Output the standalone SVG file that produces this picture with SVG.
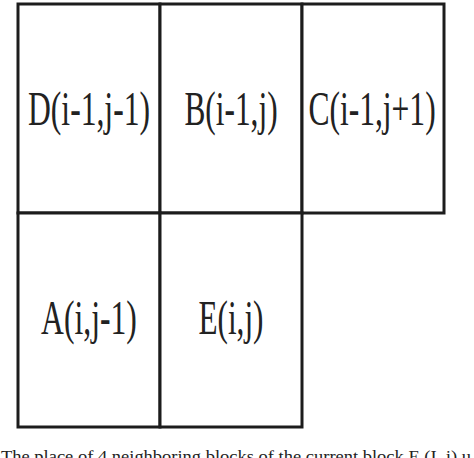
<svg xmlns="http://www.w3.org/2000/svg" width="474" height="458" viewBox="0 0 474 458">
<style>
.cell{fill:#fff;stroke:#1c1c1c;stroke-width:3}
.lbl{font-family:"Liberation Serif","Times New Roman",serif;font-size:48px;fill:#222;text-anchor:middle}
.cap{font-family:"Liberation Serif","Times New Roman",serif;font-size:17px;fill:#222}
</style>
<rect width="474" height="458" fill="#fff"/>
<g id="D"><rect class="cell" x="18" y="4" width="142" height="209"/><text class="lbl" transform="translate(89 125) scale(0.656 1)" x="0" y="0" textLength="186" lengthAdjust="spacingAndGlyphs">D(i-1,j-1)</text></g>
<g id="B"><rect class="cell" x="160" y="4" width="142" height="209"/><text class="lbl" transform="translate(231 125) scale(0.656 1)" x="0" y="0" textLength="142" lengthAdjust="spacingAndGlyphs">B(i-1,j)</text></g>
<g id="C"><rect class="cell" x="302" y="4" width="142" height="209"/><text class="lbl" transform="translate(372 125) scale(0.656 1)" x="0" y="0" textLength="194" lengthAdjust="spacingAndGlyphs">C(i-1,j+1)</text></g>
<g id="A"><rect class="cell" x="18" y="213" width="142" height="214"/><text class="lbl" transform="translate(89 334) scale(0.656 1)" x="0" y="0" textLength="146" lengthAdjust="spacingAndGlyphs">A(i,j-1)</text></g>
<g id="E"><rect class="cell" x="160" y="213" width="142" height="214"/><text class="lbl" transform="translate(231 334) scale(0.656 1)" x="0" y="0" textLength="99" lengthAdjust="spacingAndGlyphs">E(i,j)</text></g>
<g id="connectors"></g>
<text class="cap" x="1" y="462" textLength="470" lengthAdjust="spacingAndGlyphs">The place of 4 neighboring blocks of the current block E (I, j) u</text>
</svg>
